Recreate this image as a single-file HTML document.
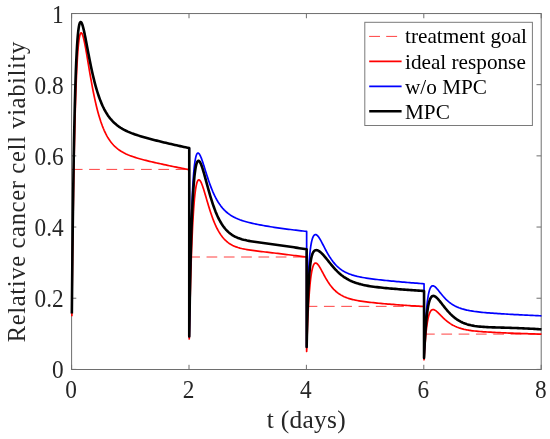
<!DOCTYPE html>
<html><head><meta charset="utf-8"><style>
html,body{margin:0;padding:0;background:#fff;}
svg{display:block;}
text{font-family:"Liberation Serif",serif;}
</style></head><body>
<svg width="550" height="439" viewBox="0 0 550 439">
<rect width="550" height="439" fill="#fff"/>
<rect x="71.60" y="13.55" width="469.60" height="355.95" fill="none" stroke="#6e6e6e" stroke-width="1"/>
<path d="M71.60,369.50V364.80M71.60,13.55V18.25M189.00,369.50V364.80M189.00,13.55V18.25M306.40,369.50V364.80M306.40,13.55V18.25M423.80,369.50V364.80M423.80,13.55V18.25M541.20,369.50V364.80M541.20,13.55V18.25M71.60,369.40H76.30M541.20,369.40H536.50M71.60,298.22H76.30M541.20,298.22H536.50M71.60,227.04H76.30M541.20,227.04H536.50M71.60,155.86H76.30M541.20,155.86H536.50M71.60,84.68H76.30M541.20,84.68H536.50M71.60,13.50H76.30M541.20,13.50H536.50" stroke="#6e6e6e" stroke-width="1" fill="none"/>
<g fill="none" stroke-linejoin="round">
<path d="M71.85,169.40H189.00 M189.25,257.00H306.40 M306.65,306.35H423.80 M424.05,334.10H541.20" stroke="#ff0000" stroke-width="1" stroke-dasharray="10.7 6.6" opacity="0.75"/>
<path d="M71.85,316.20 72.12,292.15 72.38,269.75 72.65,248.92 72.92,229.55 73.18,211.57 73.45,194.88 73.72,179.42 73.98,165.11 74.25,151.89 74.52,139.68 74.78,128.42 75.16,114.06 75.54,101.34 75.91,90.11 76.29,80.24 76.67,71.62 77.04,64.13 77.42,57.68 77.80,52.17 78.17,47.52 78.55,43.64 78.92,40.47 79.30,37.93 79.68,35.97 80.05,34.54 80.43,33.57 80.81,33.02 81.18,32.85 81.56,33.02 81.93,33.49 82.31,34.23 82.69,35.20 83.06,36.39 83.44,37.75 83.82,39.28 84.19,40.95 84.57,42.74 84.94,44.63 85.32,46.61 85.70,48.66 86.07,50.77 86.45,52.93 86.83,55.12 87.20,57.34 87.58,59.58 87.95,61.83 88.33,64.08 88.71,66.33 89.08,68.57 89.46,70.79 90.32,75.82 91.19,80.71 92.05,85.44 92.91,89.97 93.78,94.29 94.64,98.40 95.50,102.29 96.37,105.97 97.23,109.43 98.09,112.68 98.96,115.73 99.82,118.59 100.68,121.26 101.55,123.75 102.41,126.08 103.27,128.25 104.13,130.28 105.00,132.16 105.86,133.92 106.72,135.56 107.59,137.08 108.45,138.50 109.31,139.83 110.18,141.06 111.04,142.21 111.90,143.29 112.77,144.29 113.63,145.23 114.49,146.11 115.36,146.93 116.22,147.70 117.08,148.42 117.95,149.11 118.81,149.75 120.62,150.97 122.42,152.06 124.23,153.04 126.03,153.92 127.84,154.73 129.65,155.47 131.45,156.15 133.26,156.78 135.07,157.38 136.87,157.94 138.68,158.48 140.48,158.99 142.29,159.48 144.10,159.96 145.90,160.42 147.71,160.87 149.51,161.31 151.32,161.74 153.13,162.16 154.93,162.57 156.74,162.98 158.55,163.39 160.35,163.78 162.16,164.18 163.96,164.57 165.77,164.95 167.58,165.34 169.38,165.72 171.19,166.09 172.99,166.46 174.80,166.83 176.61,167.20 178.41,167.57 180.22,167.93 182.03,168.29 183.83,168.65 185.64,169.00 187.44,169.36 189.25,169.71 L189.25,339.00 189.52,325.69 189.78,313.34 190.05,301.87 190.32,291.22 190.58,281.34 190.85,272.17 191.12,263.67 191.38,255.79 191.65,248.50 191.92,241.75 192.19,235.51 192.56,227.52 192.94,220.40 193.31,214.08 193.69,208.48 194.07,203.56 194.44,199.25 194.82,195.50 195.20,192.25 195.57,189.48 195.95,187.13 196.32,185.18 196.70,183.57 197.08,182.30 197.45,181.31 197.83,180.60 198.21,180.13 198.58,179.87 198.96,179.82 199.33,179.94 199.71,180.23 200.09,180.65 200.46,181.21 200.84,181.88 201.22,182.65 201.59,183.51 201.97,184.45 202.34,185.46 202.72,186.53 203.10,187.65 203.47,188.81 203.85,190.00 204.23,191.23 204.60,192.48 204.98,193.74 205.35,195.02 205.73,196.31 206.11,197.60 206.48,198.89 206.86,200.18 207.72,203.11 208.59,205.99 209.45,208.78 210.31,211.48 211.18,214.07 212.04,216.54 212.90,218.89 213.77,221.11 214.63,223.21 215.49,225.19 216.36,227.04 217.22,228.77 218.08,230.39 218.95,231.91 219.81,233.31 220.67,234.62 221.53,235.84 222.40,236.97 223.26,238.01 224.12,238.98 224.99,239.88 225.85,240.71 226.71,241.48 227.58,242.19 228.44,242.84 229.30,243.45 230.17,244.01 231.03,244.53 231.89,245.00 232.76,245.45 233.62,245.86 234.48,246.24 235.35,246.59 236.21,246.92 238.02,247.53 239.82,248.06 241.63,248.52 243.43,248.93 245.24,249.29 247.05,249.61 248.85,249.91 250.66,250.18 252.47,250.43 254.27,250.67 256.08,250.90 257.88,251.13 259.69,251.34 261.50,251.56 263.30,251.77 265.11,251.98 266.91,252.18 268.72,252.39 270.53,252.60 272.33,252.81 274.14,253.03 275.95,253.24 277.75,253.46 279.56,253.67 281.36,253.89 283.17,254.11 284.98,254.33 286.78,254.56 288.59,254.78 290.39,255.01 292.20,255.24 294.01,255.47 295.81,255.70 297.62,255.93 299.43,256.17 301.23,256.40 303.04,256.64 304.84,256.87 306.65,257.11 L306.65,351.50 306.92,342.78 307.18,334.88 307.45,327.71 307.72,321.20 307.98,315.29 308.25,309.90 308.52,305.00 308.78,300.54 309.05,296.47 309.32,292.77 309.59,289.40 309.96,285.16 310.34,281.46 310.71,278.24 311.09,275.44 311.47,273.03 311.84,270.96 312.22,269.20 312.60,267.71 312.97,266.48 313.35,265.47 313.72,264.67 314.10,264.04 314.48,263.58 314.85,263.27 315.23,263.09 315.61,263.03 315.98,263.07 316.36,263.21 316.73,263.43 317.11,263.73 317.49,264.09 317.86,264.51 318.24,264.98 318.62,265.50 318.99,266.05 319.37,266.64 319.74,267.25 320.12,267.89 320.50,268.54 320.87,269.21 321.25,269.90 321.63,270.59 322.00,271.29 322.38,271.99 322.75,272.69 323.13,273.39 323.51,274.09 323.88,274.79 324.26,275.48 325.12,277.04 325.99,278.55 326.85,280.00 327.71,281.40 328.58,282.73 329.44,283.99 330.30,285.18 331.17,286.31 332.03,287.37 332.89,288.37 333.76,289.30 334.62,290.17 335.48,290.99 336.35,291.75 337.21,292.46 338.07,293.13 338.93,293.75 339.80,294.32 340.66,294.86 341.52,295.36 342.39,295.83 343.25,296.27 344.11,296.67 344.98,297.05 345.84,297.41 346.70,297.74 347.57,298.05 348.43,298.35 349.29,298.62 350.16,298.88 351.02,299.12 351.88,299.35 352.75,299.57 353.61,299.77 355.42,300.17 357.22,300.52 359.03,300.85 360.83,301.14 362.64,301.41 364.45,301.67 366.25,301.90 368.06,302.12 369.87,302.33 371.67,302.53 373.48,302.72 375.28,302.91 377.09,303.09 378.90,303.26 380.70,303.42 382.51,303.58 384.31,303.74 386.12,303.89 387.93,304.04 389.73,304.19 391.54,304.33 393.35,304.47 395.15,304.61 396.96,304.75 398.76,304.88 400.57,305.01 402.38,305.14 404.18,305.26 405.99,305.38 407.79,305.50 409.60,305.62 411.41,305.74 413.21,305.86 415.02,305.97 416.83,306.08 418.63,306.19 420.44,306.30 422.24,306.40 424.05,306.51 L424.05,359.80 424.32,355.12 424.58,350.80 424.85,346.84 425.12,343.19 425.38,339.85 425.65,336.77 425.92,333.96 426.18,331.38 426.45,329.01 426.72,326.86 426.99,324.89 427.36,322.41 427.74,320.24 428.11,318.36 428.49,316.72 428.87,315.32 429.24,314.11 429.62,313.09 430.00,312.24 430.37,311.53 430.75,310.95 431.12,310.49 431.50,310.13 431.88,309.87 432.25,309.70 432.63,309.59 433.01,309.56 433.38,309.58 433.76,309.66 434.13,309.78 434.51,309.94 434.89,310.14 435.26,310.37 435.64,310.63 436.02,310.91 436.39,311.21 436.77,311.53 437.14,311.86 437.52,312.20 437.90,312.56 438.27,312.92 438.65,313.29 439.03,313.67 439.40,314.05 439.78,314.43 440.15,314.81 440.53,315.19 440.91,315.58 441.28,315.96 441.66,316.33 442.52,317.19 443.39,318.02 444.25,318.83 445.11,319.61 445.98,320.36 446.84,321.07 447.70,321.75 448.57,322.40 449.43,323.02 450.29,323.60 451.16,324.15 452.02,324.66 452.88,325.15 453.75,325.61 454.61,326.04 455.47,326.44 456.34,326.82 457.20,327.18 458.06,327.51 458.92,327.82 459.79,328.11 460.65,328.38 461.51,328.64 462.38,328.88 463.24,329.10 464.10,329.31 464.97,329.50 465.83,329.69 466.69,329.86 467.56,330.02 468.42,330.17 469.28,330.31 470.15,330.44 471.01,330.56 472.82,330.80 474.62,331.01 476.43,331.20 478.23,331.37 480.04,331.52 481.85,331.66 483.65,331.79 485.46,331.91 487.27,332.02 489.07,332.12 490.88,332.22 492.68,332.32 494.49,332.41 496.30,332.50 498.10,332.58 499.91,332.67 501.71,332.75 503.52,332.83 505.33,332.90 507.13,332.98 508.94,333.05 510.75,333.13 512.55,333.20 514.36,333.27 516.16,333.33 517.97,333.40 519.78,333.47 521.58,333.53 523.39,333.59 525.19,333.65 527.00,333.71 528.81,333.77 530.61,333.82 532.42,333.88 534.23,333.93 536.03,333.98 537.84,334.03 539.64,334.08 541.45,334.13" stroke="#ff0000" stroke-width="1.7"/>
<path d="M189.25,148.10 L189.25,336.50 189.52,314.78 189.78,295.74 190.05,279.01 190.32,264.26 190.58,251.23 190.85,239.69 191.12,229.44 191.38,220.33 191.65,212.22 191.92,204.98 192.19,198.52 192.56,190.57 192.94,183.79 193.31,178.01 193.69,173.09 194.07,168.93 194.44,165.42 194.82,162.49 195.20,160.06 195.57,158.08 195.95,156.49 196.32,155.25 196.70,154.33 197.08,153.68 197.45,153.27 197.83,153.09 198.21,153.09 198.58,153.27 198.96,153.60 199.33,154.07 199.71,154.66 200.09,155.34 200.46,156.13 200.84,156.99 201.22,157.91 201.59,158.90 201.97,159.94 202.34,161.02 202.72,162.13 203.10,163.28 203.47,164.44 203.85,165.62 204.23,166.82 204.60,168.02 204.98,169.23 205.35,170.43 205.73,171.64 206.11,172.84 206.48,174.03 206.86,175.21 207.72,177.88 208.59,180.47 209.45,182.96 210.31,185.35 211.18,187.63 212.04,189.80 212.90,191.86 213.77,193.81 214.63,195.65 215.49,197.38 216.36,199.01 217.22,200.55 218.08,201.99 218.95,203.34 219.81,204.61 220.67,205.79 221.53,206.91 222.40,207.95 223.26,208.93 224.12,209.85 224.99,210.71 225.85,211.51 226.71,212.27 227.58,212.98 228.44,213.65 229.30,214.28 230.17,214.88 231.03,215.44 231.89,215.96 232.76,216.46 233.62,216.94 234.48,217.38 235.35,217.81 236.21,218.21 238.02,218.99 239.82,219.70 241.63,220.35 243.43,220.94 245.24,221.49 247.05,222.00 248.85,222.47 250.66,222.92 252.47,223.34 254.27,223.75 256.08,224.13 257.88,224.50 259.69,224.85 261.50,225.19 263.30,225.51 265.11,225.83 266.91,226.14 268.72,226.44 270.53,226.73 272.33,227.01 274.14,227.29 275.95,227.56 277.75,227.83 279.56,228.08 281.36,228.34 283.17,228.59 284.98,228.83 286.78,229.07 288.59,229.30 290.39,229.53 292.20,229.76 294.01,229.98 295.81,230.19 297.62,230.41 299.43,230.62 301.23,230.82 303.04,231.02 304.84,231.22 306.65,231.42 L306.65,347.00 306.92,330.48 307.18,316.63 307.45,304.99 307.72,295.16 307.98,286.83 308.25,279.74 308.52,273.69 308.78,268.50 309.05,264.02 309.32,260.14 309.59,256.78 309.96,252.74 310.34,249.39 310.71,246.60 311.09,244.25 311.47,242.28 311.84,240.62 312.22,239.24 312.60,238.08 312.97,237.13 313.35,236.36 313.72,235.75 314.10,235.28 314.48,234.94 314.85,234.72 315.23,234.61 315.61,234.59 315.98,234.66 316.36,234.81 316.73,235.04 317.11,235.33 317.49,235.68 317.86,236.09 318.24,236.55 318.62,237.05 318.99,237.58 319.37,238.16 319.74,238.76 320.12,239.39 320.50,240.04 320.87,240.71 321.25,241.40 321.63,242.10 322.00,242.82 322.38,243.54 322.75,244.26 323.13,244.99 323.51,245.72 323.88,246.46 324.26,247.19 325.12,248.85 325.99,250.48 326.85,252.07 327.71,253.60 328.58,255.08 329.44,256.50 330.30,257.85 331.17,259.14 332.03,260.36 332.89,261.51 333.76,262.60 334.62,263.63 335.48,264.59 336.35,265.50 337.21,266.35 338.07,267.15 338.93,267.90 339.80,268.60 340.66,269.26 341.52,269.87 342.39,270.45 343.25,270.99 344.11,271.49 344.98,271.97 345.84,272.41 346.70,272.83 347.57,273.22 348.43,273.59 349.29,273.93 350.16,274.26 351.02,274.57 351.88,274.86 352.75,275.13 353.61,275.39 355.42,275.89 357.22,276.34 359.03,276.75 360.83,277.12 362.64,277.47 364.45,277.78 366.25,278.08 368.06,278.35 369.87,278.61 371.67,278.86 373.48,279.09 375.28,279.32 377.09,279.53 378.90,279.74 380.70,279.94 382.51,280.14 384.31,280.33 386.12,280.51 387.93,280.69 389.73,280.87 391.54,281.05 393.35,281.22 395.15,281.38 396.96,281.55 398.76,281.71 400.57,281.87 402.38,282.03 404.18,282.18 405.99,282.33 407.79,282.48 409.60,282.63 411.41,282.78 413.21,282.92 415.02,283.06 416.83,283.20 418.63,283.34 420.44,283.48 422.24,283.62 424.05,283.75 L424.05,358.00 424.32,350.04 424.58,342.96 424.85,336.64 425.12,331.00 425.38,325.95 425.65,321.42 425.92,317.36 426.18,313.72 426.45,310.44 426.72,307.50 426.99,304.85 427.36,301.57 427.74,298.75 428.11,296.33 428.49,294.27 428.87,292.52 429.24,291.03 429.62,289.79 430.00,288.76 430.37,287.92 430.75,287.25 431.12,286.72 431.50,286.32 431.88,286.04 432.25,285.87 432.63,285.78 433.01,285.78 433.38,285.85 433.76,285.98 434.13,286.16 434.51,286.39 434.89,286.67 435.26,286.98 435.64,287.33 436.02,287.70 436.39,288.09 436.77,288.50 437.14,288.93 437.52,289.37 437.90,289.82 438.27,290.28 438.65,290.75 439.03,291.22 439.40,291.69 439.78,292.16 440.15,292.64 440.53,293.11 440.91,293.57 441.28,294.04 441.66,294.49 442.52,295.53 443.39,296.53 444.25,297.48 445.11,298.40 445.98,299.28 446.84,300.11 447.70,300.89 448.57,301.64 449.43,302.34 450.29,303.00 451.16,303.62 452.02,304.20 452.88,304.75 453.75,305.27 454.61,305.75 455.47,306.20 456.34,306.62 457.20,307.02 458.06,307.39 458.92,307.74 459.79,308.07 460.65,308.38 461.51,308.67 462.38,308.94 463.24,309.19 464.10,309.43 464.97,309.66 465.83,309.87 466.69,310.07 467.56,310.26 468.42,310.43 469.28,310.60 470.15,310.76 471.01,310.91 472.82,311.21 474.62,311.47 476.43,311.71 478.23,311.93 480.04,312.13 481.85,312.31 483.65,312.48 485.46,312.65 487.27,312.80 489.07,312.94 490.88,313.08 492.68,313.21 494.49,313.34 496.30,313.46 498.10,313.58 499.91,313.69 501.71,313.80 503.52,313.91 505.33,314.02 507.13,314.12 508.94,314.23 510.75,314.33 512.55,314.43 514.36,314.53 516.16,314.62 517.97,314.72 519.78,314.81 521.58,314.90 523.39,315.00 525.19,315.09 527.00,315.18 528.81,315.26 530.61,315.35 532.42,315.44 534.23,315.52 536.03,315.61 537.84,315.69 539.64,315.77 541.45,315.85" stroke="#0000ff" stroke-width="1.7"/>
<path d="M71.85,313.60 72.12,284.95 72.38,258.82 72.65,234.99 72.92,213.25 73.18,193.42 73.45,175.34 73.72,158.87 73.98,143.87 74.25,130.21 74.52,117.80 74.78,106.53 75.16,92.40 75.54,80.13 75.91,69.52 76.29,60.39 76.67,52.58 77.04,45.95 77.42,40.37 77.80,35.72 78.17,31.91 78.55,28.84 78.92,26.44 79.30,24.62 79.68,23.33 80.05,22.50 80.43,22.08 80.81,22.02 81.18,22.28 81.56,22.81 81.93,23.60 82.31,24.59 82.69,25.77 83.06,27.10 83.44,28.57 83.82,30.16 84.19,31.85 84.57,33.61 84.94,35.44 85.32,37.33 85.70,39.25 86.07,41.21 86.45,43.19 86.83,45.18 87.20,47.18 87.58,49.18 87.95,51.17 88.33,53.15 88.71,55.12 89.08,57.07 89.46,58.99 90.32,63.31 91.19,67.48 92.05,71.47 92.91,75.28 93.78,78.89 94.64,82.32 95.50,85.56 96.37,88.62 97.23,91.50 98.09,94.20 98.96,96.75 99.82,99.13 100.68,101.37 101.55,103.47 102.41,105.44 103.27,107.28 104.13,109.01 105.00,110.63 105.86,112.15 106.72,113.57 107.59,114.91 108.45,116.16 109.31,117.34 110.18,118.44 111.04,119.48 111.90,120.46 112.77,121.39 113.63,122.25 114.49,123.07 115.36,123.85 116.22,124.58 117.08,125.27 117.95,125.93 118.81,126.56 120.62,127.76 122.42,128.85 124.23,129.85 126.03,130.76 127.84,131.59 129.65,132.37 131.45,133.10 133.26,133.78 135.07,134.43 136.87,135.04 138.68,135.63 140.48,136.19 142.29,136.73 144.10,137.26 145.90,137.77 147.71,138.27 149.51,138.76 151.32,139.24 153.13,139.71 154.93,140.17 156.74,140.63 158.55,141.08 160.35,141.52 162.16,141.96 163.96,142.40 165.77,142.83 167.58,143.26 169.38,143.68 171.19,144.10 172.99,144.51 174.80,144.93 176.61,145.33 178.41,145.74 180.22,146.14 182.03,146.54 183.83,146.93 185.64,147.32 187.44,147.71 189.25,148.10 L189.25,336.50 189.52,317.77 189.78,301.13 190.05,286.30 190.32,273.05 190.58,261.17 190.85,250.51 191.12,240.92 191.38,232.27 191.65,224.47 191.92,217.42 192.19,211.04 192.56,203.06 192.94,196.13 193.31,190.11 193.69,184.89 194.07,180.38 194.44,176.50 194.82,173.18 195.20,170.37 195.57,168.00 195.95,166.04 196.32,164.45 196.70,163.18 197.08,162.22 197.45,161.52 197.83,161.07 198.21,160.84 198.58,160.81 198.96,160.96 199.33,161.28 199.71,161.73 200.09,162.32 200.46,163.03 200.84,163.84 201.22,164.75 201.59,165.73 201.97,166.79 202.34,167.91 202.72,169.09 203.10,170.31 203.47,171.58 203.85,172.88 204.23,174.20 204.60,175.55 204.98,176.91 205.35,178.29 205.73,179.68 206.11,181.07 206.48,182.46 206.86,183.86 207.72,187.03 208.59,190.14 209.45,193.19 210.31,196.14 211.18,198.98 212.04,201.71 212.90,204.32 213.77,206.80 214.63,209.16 215.49,211.39 216.36,213.50 217.22,215.48 218.08,217.34 218.95,219.09 219.81,220.73 220.67,222.27 221.53,223.70 222.40,225.03 223.26,226.28 224.12,227.44 224.99,228.52 225.85,229.52 226.71,230.45 227.58,231.32 228.44,232.12 229.30,232.86 230.17,233.55 231.03,234.19 231.89,234.79 232.76,235.34 233.62,235.85 234.48,236.32 235.35,236.76 236.21,237.17 238.02,237.93 239.82,238.59 241.63,239.16 243.43,239.66 245.24,240.10 247.05,240.50 248.85,240.85 250.66,241.17 252.47,241.47 254.27,241.75 256.08,242.02 257.88,242.27 259.69,242.52 261.50,242.76 263.30,243.01 265.11,243.24 266.91,243.48 268.72,243.72 270.53,243.96 272.33,244.21 274.14,244.45 275.95,244.70 277.75,244.95 279.56,245.21 281.36,245.46 283.17,245.72 284.98,245.99 286.78,246.25 288.59,246.52 290.39,246.79 292.20,247.06 294.01,247.33 295.81,247.61 297.62,247.88 299.43,248.16 301.23,248.44 303.04,248.72 304.84,249.00 306.65,249.28 L306.65,347.00 306.92,334.65 307.18,323.85 307.45,314.39 307.72,306.12 307.98,298.88 308.25,292.56 308.52,287.02 308.78,282.18 309.05,277.95 309.32,274.25 309.59,271.02 309.96,267.14 310.34,263.93 310.71,261.27 311.09,259.08 311.47,257.27 311.84,255.78 312.22,254.55 312.60,253.54 312.97,252.72 313.35,252.06 313.72,251.52 314.10,251.10 314.48,250.77 314.85,250.52 315.23,250.34 315.61,250.23 315.98,250.17 316.36,250.16 316.73,250.19 317.11,250.26 317.49,250.37 317.86,250.51 318.24,250.67 318.62,250.87 318.99,251.09 319.37,251.34 319.74,251.60 320.12,251.89 320.50,252.20 320.87,252.52 321.25,252.86 321.63,253.22 322.00,253.59 322.38,253.97 322.75,254.37 323.13,254.77 323.51,255.19 323.88,255.62 324.26,256.05 325.12,257.08 325.99,258.13 326.85,259.20 327.71,260.29 328.58,261.37 329.44,262.46 330.30,263.53 331.17,264.59 332.03,265.63 332.89,266.65 333.76,267.64 334.62,268.61 335.48,269.54 336.35,270.45 337.21,271.32 338.07,272.15 338.93,272.96 339.80,273.73 340.66,274.46 341.52,275.17 342.39,275.84 343.25,276.48 344.11,277.09 344.98,277.67 345.84,278.22 346.70,278.75 347.57,279.24 348.43,279.72 349.29,280.16 350.16,280.59 351.02,280.99 351.88,281.37 352.75,281.74 353.61,282.08 355.42,282.74 357.22,283.34 359.03,283.87 360.83,284.35 362.64,284.79 364.45,285.18 366.25,285.54 368.06,285.87 369.87,286.17 371.67,286.44 373.48,286.70 375.28,286.94 377.09,287.16 378.90,287.37 380.70,287.57 382.51,287.76 384.31,287.94 386.12,288.12 387.93,288.28 389.73,288.44 391.54,288.60 393.35,288.75 395.15,288.90 396.96,289.05 398.76,289.19 400.57,289.33 402.38,289.47 404.18,289.60 405.99,289.74 407.79,289.87 409.60,290.00 411.41,290.13 413.21,290.26 415.02,290.38 416.83,290.51 418.63,290.63 420.44,290.76 422.24,290.88 424.05,291.00 L424.05,358.00 424.32,351.81 424.58,346.20 424.85,341.11 425.12,336.49 425.38,332.30 425.65,328.50 425.92,325.05 426.18,321.91 426.45,319.07 426.72,316.50 426.99,314.17 427.36,311.24 427.74,308.70 428.11,306.50 428.49,304.60 428.87,302.97 429.24,301.57 429.62,300.37 430.00,299.36 430.37,298.52 430.75,297.82 431.12,297.25 431.50,296.80 431.88,296.45 432.25,296.20 432.63,296.03 433.01,295.94 433.38,295.91 433.76,295.95 434.13,296.04 434.51,296.18 434.89,296.36 435.26,296.59 435.64,296.85 436.02,297.14 436.39,297.46 436.77,297.80 437.14,298.17 437.52,298.55 437.90,298.96 438.27,299.38 438.65,299.81 439.03,300.25 439.40,300.71 439.78,301.17 440.15,301.64 440.53,302.11 440.91,302.59 441.28,303.07 441.66,303.55 442.52,304.67 443.39,305.78 444.25,306.87 445.11,307.95 445.98,309.01 446.84,310.04 447.70,311.03 448.57,312.00 449.43,312.92 450.29,313.81 451.16,314.66 452.02,315.48 452.88,316.25 453.75,316.99 454.61,317.69 455.47,318.36 456.34,318.98 457.20,319.58 458.06,320.13 458.92,320.66 459.79,321.15 460.65,321.62 461.51,322.05 462.38,322.46 463.24,322.84 464.10,323.19 464.97,323.53 465.83,323.83 466.69,324.12 467.56,324.39 468.42,324.64 469.28,324.87 470.15,325.08 471.01,325.28 472.82,325.64 474.62,325.96 476.43,326.22 478.23,326.44 480.04,326.63 481.85,326.78 483.65,326.91 485.46,327.03 487.27,327.12 489.07,327.20 490.88,327.27 492.68,327.34 494.49,327.40 496.30,327.45 498.10,327.50 499.91,327.55 501.71,327.60 503.52,327.65 505.33,327.70 507.13,327.76 508.94,327.81 510.75,327.87 512.55,327.93 514.36,328.00 516.16,328.06 517.97,328.13 519.78,328.21 521.58,328.29 523.39,328.37 525.19,328.45 527.00,328.54 528.81,328.63 530.61,328.72 532.42,328.82 534.23,328.92 536.03,329.02 537.84,329.12 539.64,329.23 541.45,329.33" stroke="#000" stroke-width="2.6"/>
</g>
<g fill="#262626" font-size="25.2"><text transform="translate(63.7,378.40) scale(0.925,1)" text-anchor="end">0</text><text transform="translate(63.7,307.22) scale(0.925,1)" text-anchor="end">0.2</text><text transform="translate(63.7,236.04) scale(0.925,1)" text-anchor="end">0.4</text><text transform="translate(63.7,164.86) scale(0.925,1)" text-anchor="end">0.6</text><text transform="translate(63.7,93.68) scale(0.925,1)" text-anchor="end">0.8</text><text transform="translate(63.7,22.50) scale(0.925,1)" text-anchor="end">1</text><text transform="translate(71.10,398.2) scale(0.925,1)" text-anchor="middle">0</text><text transform="translate(188.50,398.2) scale(0.925,1)" text-anchor="middle">2</text><text transform="translate(305.90,398.2) scale(0.925,1)" text-anchor="middle">4</text><text transform="translate(423.30,398.2) scale(0.925,1)" text-anchor="middle">6</text><text transform="translate(540.70,398.2) scale(0.925,1)" text-anchor="middle">8</text></g>
<text x="306.2" y="427.9" font-size="25.4" fill="#262626" text-anchor="middle" textLength="78.8" lengthAdjust="spacing">t (days)</text>
<text transform="translate(24.5,192) rotate(-90)" font-size="24.6" fill="#262626" text-anchor="middle" textLength="300.7" lengthAdjust="spacing">Relative cancer cell viability</text>
<rect x="364.8" y="22.3" width="167.6" height="103.2" fill="#fff" stroke="#7a7a7a" stroke-width="1"/>
<g fill="none">
<path d="M369.1,36.4H401.5" stroke="#ff0000" stroke-width="1" stroke-dasharray="10.9 6.2" opacity="0.75"/>
<path d="M369.2,61.3H401.6" stroke="#ff0000" stroke-width="1.7"/>
<path d="M369.2,86.3H401.6" stroke="#0000ff" stroke-width="1.7"/>
<path d="M369.2,111.3H401.6" stroke="#000" stroke-width="2.6"/>
</g>
<g font-size="22" fill="#000">
<text transform="translate(405.0,43.4) scale(0.965,1)">treatment goal</text>
<text transform="translate(405.0,68.5) scale(0.965,1)">ideal response</text>
<text transform="translate(405.0,93.5) scale(0.965,1)">w/o MPC</text>
<text transform="translate(405.0,118.6) scale(0.965,1)">MPC</text>
</g>
</svg>
</body></html>
